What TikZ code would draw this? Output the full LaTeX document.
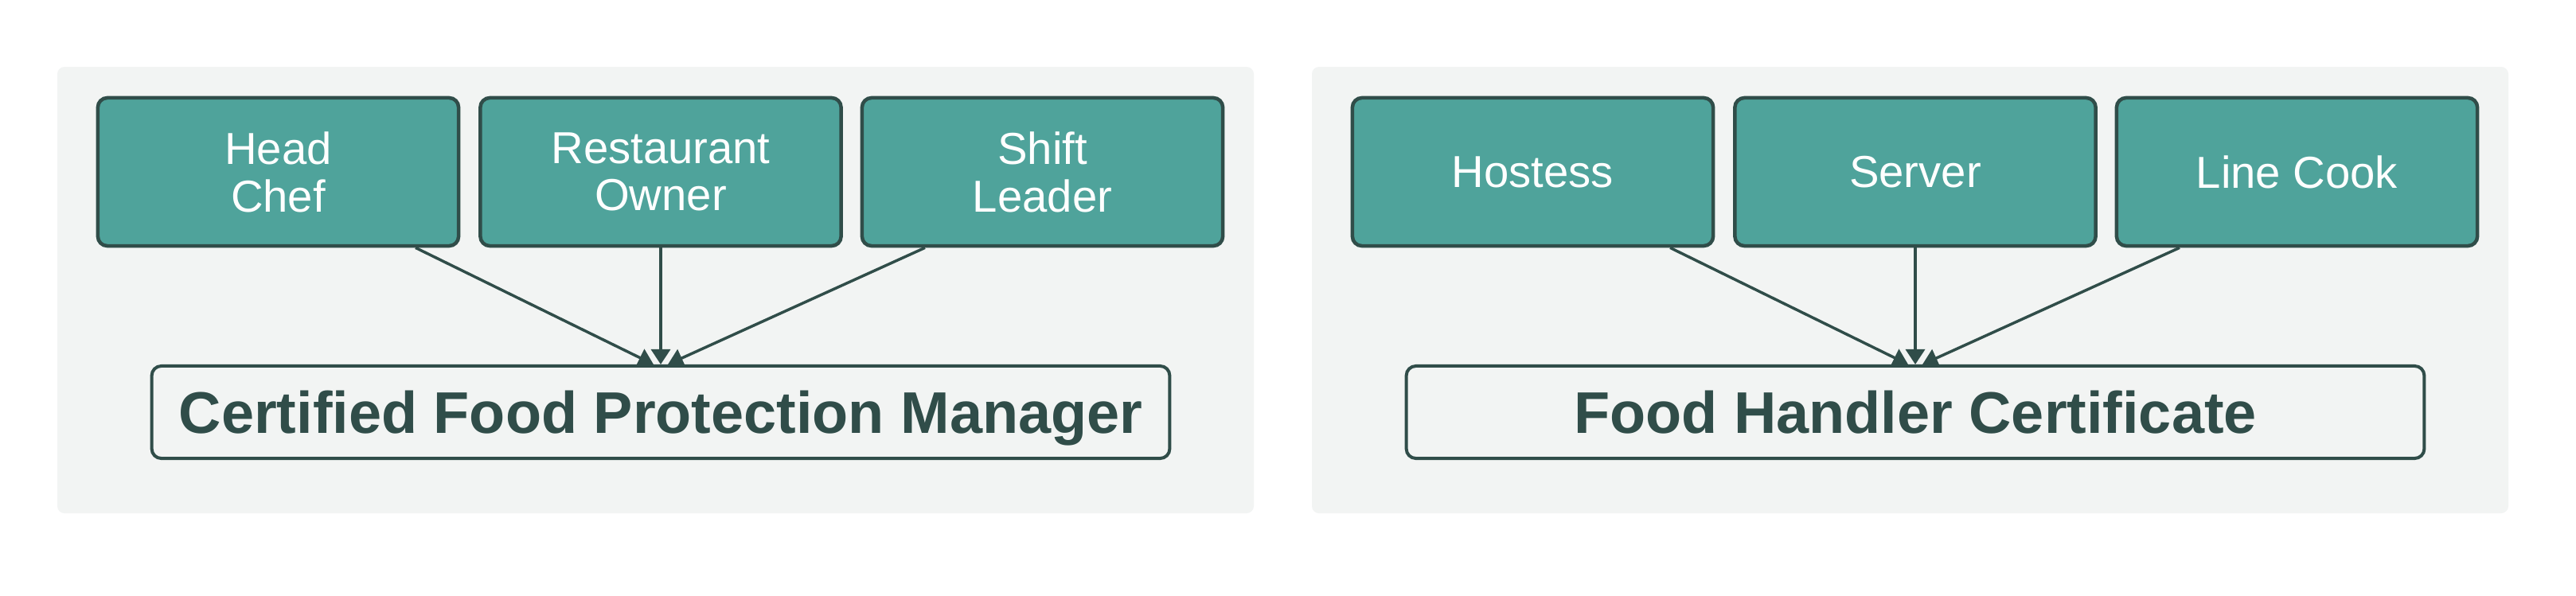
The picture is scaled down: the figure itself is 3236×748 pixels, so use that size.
\documentclass[tikz,border=0pt]{standalone}
\usepackage{fontspec}
\setmainfont{Liberation Sans}
\usepackage{tikz}
\usetikzlibrary{arrows.meta,shapes,positioning,calc}

\definecolor{boxteal}{HTML}{4FA39B}
\definecolor{boxedge}{HTML}{304D49}
\definecolor{panelgrey}{HTML}{F2F4F3}
\definecolor{inkdark}{HTML}{304D49}

\begin{document}
\begin{tikzpicture}[x=0.01cm, y=-0.01cm,
  role/.style={rectangle, draw=boxedge, fill=boxteal, rounded corners=0.12cm,
    line width=0.045cm, minimum width=4.53cm, minimum height=1.86cm,
    text=white, align=center, font=\fontsize{16}{17}\selectfont},
  cert/.style={rectangle, draw=boxedge, fill=panelgrey, rounded corners=0.12cm,
    line width=0.04cm, minimum width=12.78cm, minimum height=1.16cm,
    text height=15.2pt, text depth=0pt,
    text=inkdark, font=\fontsize{21}{25}\selectfont\bfseries},
  link/.style={->, draw=boxedge, line width=0.035cm},
  >={Triangle[length=0.19cm,width=0.24cm]}]
\useasboundingbox (0,0) rectangle (3236,748);
\fill[white] (0,0) rectangle (3236,748);

% panels
\fill[panelgrey, rounded corners=0.09cm] (72,84) rectangle (1575,645);
\fill[panelgrey, rounded corners=0.09cm] (1648,84) rectangle (3151,645);

% manager side
\node[role] (hc) at (349.5,216) {Head\\Chef};
\node[role] (ro) at (830,216) {Restaurant\\Owner};
\node[role] (sl) at (1309.5,216) {Shift\\Leader};
\node[cert] (cfpm) at (830,518) {Certified Food Protection Manager};

% handler side
\node[role] (ho) at (1925.5,216) {Hostess};
\node[role] (se) at (2406,216) {Server};
\node[role] (lc) at (2885.5,216) {Line Cook};
\node[cert] (fhc) at (2406,518) {Food Handler Certificate};

\draw[link] ($(hc.south)+(172.5,0)$) -- ($(cfpm.north)+(-9,0)$);
\draw[link] (ro.south) -- (cfpm.north);
\draw[link] ($(sl.south)+(-147.5,0)$) -- ($(cfpm.north)+(9,0)$);

\draw[link] ($(ho.south)+(172.5,0)$) -- ($(fhc.north)+(-9,0)$);
\draw[link] (se.south) -- (fhc.north);
\draw[link] ($(lc.south)+(-147.5,0)$) -- ($(fhc.north)+(9,0)$);
\end{tikzpicture}
\end{document}
